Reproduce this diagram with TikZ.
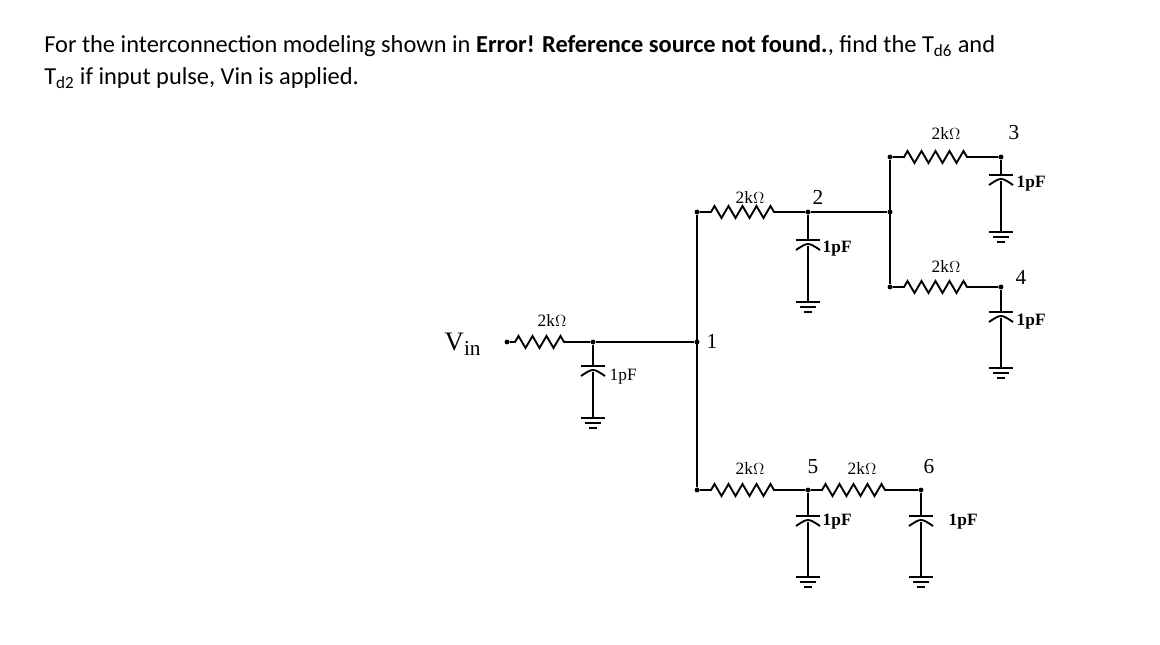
\documentclass[tikz,border=0pt]{standalone}
\usepackage{fontspec}
\setmainfont{Liberation Serif}
\newfontfamily\calibri{Carlito}
\usetikzlibrary{decorations.pathmorphing}
\tikzset{
  wire/.style={line width=1.4pt},
  zz/.style={decoration={zigzag,amplitude=4.5pt,segment length=10.5pt}},
  dot/.style={circle,fill,inner sep=1.3pt},
  lab/.style={font=\fontsize{13}{13}\selectfont},
  num/.style={font=\fontsize{16}{16}\selectfont},
  pflab/.style={font=\bfseries\fontsize{13}{13}\selectfont,anchor=west},
  txt/.style={font=\calibri\fontsize{18.3}{20}\selectfont,anchor=base west,inner sep=0}
}
\newcommand{\myres}[3]{%
  \draw[wire] (#1) -- ++(14,0) decorate[zz]{-- ++(63,0)} -- (#2);
  \node[lab] at (#3) {2k$\Omega$};}
% #1 node name, #2 x, #3 plate y, #4 ground y
\newcommand{\mycap}[4]{%
  \draw[wire] (#1) -- (#2,#3);
  \draw[wire] (#2-12,#3) -- (#2+12,#3);
  \draw[wire] (#2-12,#3+10) .. controls (#2,#3+2) .. (#2+12,#3+10);
  \draw[wire] (#2,#3+6) -- (#2,#4);
  \draw[wire] (#2-12,#4) -- (#2+12,#4);
  \draw[wire] (#2-8,#4+5) -- (#2+8,#4+5);
  \draw[wire] (#2-4,#4+10) -- (#2+4,#4+10);}
\begin{document}
\begin{tikzpicture}[x=0.75pt,y=-0.75pt]
\useasboundingbox (0,0) rectangle (1160,645);
\node[txt] (l1) at (44,53) {For the interconnection modeling shown in \textbf{Error! Reference source not found.}, find the T\textsubscript{d6} and};
\node[txt] (l2) at (44,85) {T\textsubscript{d2} if input pulse, Vin is applied.};
\node[dot] (vin) at (507,342) {};
\node[dot] (a) at (593,342) {};
\node[dot] (n1) at (697,342) {};
\node[dot] (t) at (697,212) {};
\node[dot] (n2) at (808,212) {};
\node[dot] (j) at (890,212) {};
\node[dot] (j3) at (890,157) {};
\node[dot] (n3) at (1001,157) {};
\node[dot] (j4) at (890,287) {};
\node[dot] (n4) at (1001,287) {};
\node[dot] (b) at (697,490) {};
\node[dot] (n5) at (808,490) {};
\node[dot] (n6) at (921,490) {};
\node[font=\fontsize{20}{20}\selectfont] (vl) at (463,344) {V\textsubscript{\fontsize{16}{16}\selectfont in}};
\draw[wire] (vin) -- ++(8,0) decorate[zz]{-- ++(52,0)} -- (a);
\node[lab] at (552,320) {2k$\Omega$};
\draw[wire] (a) -- (n1);
\draw[wire] (t) -- (b);
\myres{t}{n2}{750,197}
\draw[wire] (n2) -- (j);
\draw[wire] (j3) -- (j4);
\myres{j3}{n3}{946,133}
\myres{j4}{n4}{946,266}
\myres{b}{n5}{750,468}
\myres{n5}{n6}{862,468}
\mycap{a}{593}{366}{418}
\mycap{n2}{808}{240}{302}
\mycap{n3}{1001}{175}{232}
\mycap{n4}{1001}{312}{368}
\mycap{n5}{808}{516}{577}
\mycap{n6}{921}{516}{577}
\node[num] at (712,341) {1};
\node[num] at (818,197) {2};
\node[num] at (1014,133) {3};
\node[num] at (1021,277) {4};
\node[num] at (813,467) {5};
\node[num] at (929,467) {6};
\node[font=\fontsize{13}{13}\selectfont,anchor=west] at (605,377) {1pF};
\node[pflab] at (818,249) {1pF};
\node[pflab] at (1012,184) {1pF};
\node[pflab] at (1012,322) {1pF};
\node[pflab] at (818,522) {1pF};
\node[pflab] at (944,522) {1pF};
\end{tikzpicture}
\end{document}
